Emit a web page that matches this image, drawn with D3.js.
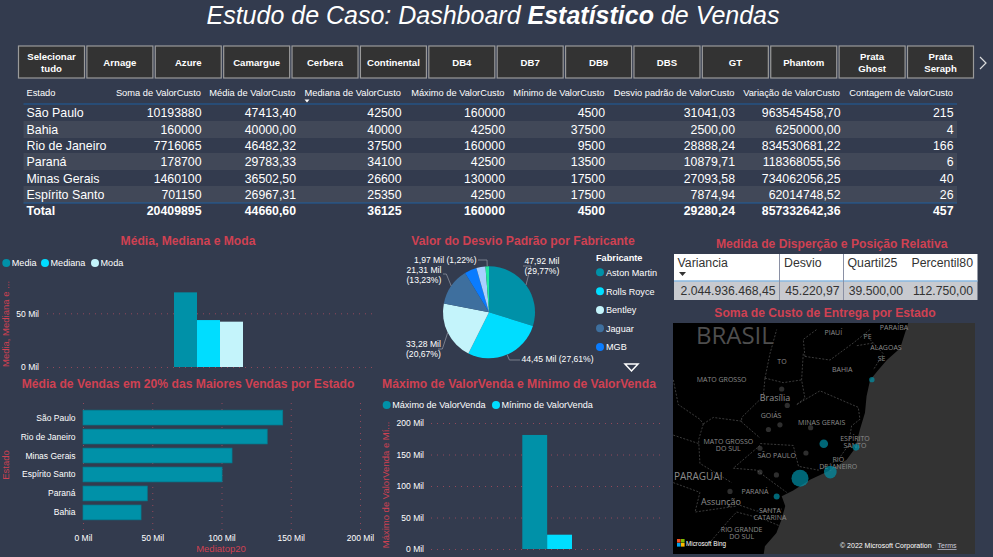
<!DOCTYPE html>
<html>
<head>
<meta charset="utf-8">
<script src="https://cdn.jsdelivr.net/npm/d3@7"></script>
<style>
  html, body {margin:0; padding:0; background:#333b4e; overflow:hidden;}
  svg {display:block;}
  text {font-family:"Liberation Sans", Arial, sans-serif; fill:#fff;}
  .grid line {stroke:#93485a; stroke-dasharray:1 5;}
  .grid .domain {display:none;}
  .grid text {font-size:8.5px; fill:#fff;}
  .titulo {font-size:12.15px; font-weight:bold; fill:#cf4152; text-anchor:middle;}
  .eixo {font-size:9.5px; fill:#cf4152; text-anchor:middle;}
  .leg {font-size:9.1px;}
  .rotulo {font-size:8.6px;}
  .mapa {fill:#8c8c8c; font-family:"Open Sans", sans-serif; font-size:7px; text-anchor:middle;}
</style>
</head>
<body>
<svg id="painel" width="993" height="557"></svg>
<script>
// Filtros de modelo
var modelos = ['Selecionar|tudo','Arnage','Azure','Camargue','Cerbera','Continental','DB4','DB7','DB9','DBS','GT','Phantom','Prata|Ghost','Prata|Seraph'];

// Tabela por estado
var colunas = ['Soma de ValorCusto','Média de ValorCusto','Mediana de ValorCusto','Máximo de ValorCusto','Mínimo de ValorCusto','Desvio padrão de ValorCusto','Variação de ValorCusto','Contagem de ValorCusto'];
var estados = ['São Paulo','Bahia','Rio de Janeiro','Paraná','Minas Gerais','Espírito Santo','Total'];
var somaCusto = ['10193880','160000','7716065','178700','1460100','701150','20409895'];
var mediaCusto = ['47413,40','40000,00','46482,32','29783,33','36502,50','26967,31','44660,60'];
var medianaCusto = ['42500','40000','37500','34100','26600','25350','36125'];
var maximoCusto = ['160000','42500','160000','42500','130000','42500','160000'];
var minimoCusto = ['4500','37500','9500','13500','17500','17500','4500'];
var desvioCusto = ['31041,03','2500,00','28888,24','10879,71','27093,58','7874,94','29280,24'];
var variacaoCusto = ['963545458,70','6250000,00','834530681,22','118368055,56','734062056,25','62014748,52','857332642,36'];
var contagemCusto = ['215','4','166','6','40','26','457'];

// Media, mediana e moda
var medidas = ['Media','Mediana','Moda'];
var medidasValores = [69500,43700,42200];

// Desvio por fabricante
var fabricantes = ['Aston Martin','Rolls Royce','Bentley','Jaguar','MGB','Outros','Demais'];
var desvioFabricante = [47.92,44.45,33.28,21.31,6.9,5.14,1.97];

// Dispersao e posicao
var dispersaoNomes = ['Variancia','Desvio','Quartil25','Percentil80'];
var dispersaoValores = ['2.044.936.468,45','45.220,97','39.500,00','112.750,00'];

// Top 20%
var estadosTop = ['São Paulo','Rio de Janeiro','Minas Gerais','Espírito Santo','Paraná','Bahia'];
var mediaTop = [144200,133000,107600,100400,46400,41900];

// Maximo e minimo de venda
var vendaNomes = ['Máximo de ValorVenda','Mínimo de ValorVenda'];
var vendaValores = [181000,22700];

// Mapa: cidades [lon, lat] e custo de entrega
var cidades = [[-46.63,-23.55],[-43.2,-22.9],[-43.94,-19.92],[-40.3,-20.3],[-49.27,-25.43],[-38.5,-12.97]];
var custoEntrega = [720,400,185,110,90,73];
var costa = [[-34.3,-6],[-34.4,-6.7],[-35.3,-9.5],[-36.8,-10.8],[-37.77,-11.9],[-38.7,-13],[-39.1,-14.8],[-39.28,-16.6],[-39.85,-18.4],[-40.4,-20.4],[-41.35,-21.6],[-43.2,-22.7],[-45.5,-23.7],[-47.4,-24.8],[-48.7,-25.4],[-48.3,-26.4],[-48.7,-27.7],[-49.3,-29.1],[-50.6,-30.4],[-50.8,-31.5],[-62,-32],[-62,-6]];
var fronteiras = [
  [[-46.26,-10.1],[-46.45,-13],[-46.07,-15],[-47,-15.7]],
  [[-50.59,-12.8],[-48.52,-13.3],[-46.45,-13]],
  [[-50.59,-12.8],[-50.78,-14.8],[-53.23,-17.1],[-53.23,-17.6],[-51.16,-19.3]],
  [[-47,-15.7],[-44.37,-14.2],[-40.04,-16],[-39.85,-17.3],[-40.79,-18],[-41.17,-20.1],[-42.3,-21.6],[-44.56,-22.7],[-46.8,-22.3],[-47.39,-20.1],[-51.16,-19.9]],
  [[-51.16,-20.1],[-54.18,-22.5],[-51.54,-22.7],[-49.65,-24],[-48.14,-25]],
  [[-57.57,-17.8],[-56.44,-17.1],[-53.23,-17.5]],
  [[-57.57,-17.8],[-58.1,-19.5],[-57.95,-22],[-54.36,-24]],
  [[-60.96,-19],[-58.1,-19.9]],
  [[-50.59,-12.8],[-50.03,-10.1],[-49.27,-7.4]],
  [[-53.8,-26.2],[-51.54,-26.9],[-48.7,-26.7]],
  [[-53.8,-27],[-50.78,-27.7],[-48.9,-28.4]],
  [[-60.96,-24],[-57.95,-25],[-58.5,-27],[-53.8,-26.4]],
  [[-60.96,-13],[-60.4,-15.7],[-57.95,-17.3],[-57.57,-17.8]],
  [[-57.2,-30.4],[-54.55,-27.7],[-53.8,-27]],
  [[-46.07,-10.4],[-43.24,-10.8],[-40.6,-8.9],[-38.72,-7.4]],
  [[-46.07,-10.4],[-46.26,-8.5],[-44.75,-7.4]],
  [[-38.72,-8.5],[-37.21,-10.1],[-38.34,-11.9]],
  [[-40.2,-9.2],[-38.34,-8.9]]
];
var manchas = [[-48.7,-14],[-48.07,-15.8],[-45.43,-18.2],[-45.96,-20.9],[-50.2,-18.4],[-48.9,-17.9],[-51.16,-20.4],[-51.16,-22.9],[-49.3,-23.2],[-54.55,-24.9]];
var nomesMapa = [
  ['PIAUÍ',-42.86,-7.7],['PARAÍBA',-36,-7.2],['PE',-38.98,-8.2],['ALAGOAS',-36.9,-9.4],['SE',-37.4,-10.6],
  ['TO',-48.67,-11],['BAHIA',-41.85,-11.9],['MATO GROSSO',-55.5,-13],['GOIÁS',-49.9,-16.9],['MINAS GERAIS',-44.18,-17.6],
  ['MATO GROSSO|DO SUL',-54.74,-19.7],['ESPÍRITO|SANTO',-40.41,-19.4],['RIO|DE JANEIRO',-42.3,-21.6],
  ['SÃO PAULO',-49.27,-21.2],['PARANÁ',-51.72,-24.9],['SANTA|CATARINA',-50.03,-26.8],
  ['RIO GRANDE|DO SUL',-53.23,-28.7]
];
var nomesMaiores = [['BRASIL',-54,-8,24],['PARAGUAI',-58.14,-23.4,10],['Brasília',-49.46,-15,9],['Assunção',-55.57,-26,9]];

var cores = ['#0091a8','#00ddff','#c4f4fb','#3e6f9e','#0a7cff','#a9d0ff','#1fe8a0'];

var svg = d3.select('#painel');

// Titulo principal
var t = svg.append('text').attr('x',493).attr('y',24).attr('text-anchor','middle')
  .style('font-size','25px').style('font-style','italic');
t.append('tspan').text('Estudo de Caso: Dashboard ');
t.append('tspan').style('font-weight','bold').text('Estatístico');
t.append('tspan').text(' de Vendas');

// Botoes de filtro
var xBotao = d3.scalePoint().domain(modelos).range([18.5,907.5]);
var botoes = svg.selectAll('.botao').data(modelos).enter().append('g')
  .attr('transform', function(d) {return 'translate(' + xBotao(d) + ',46)'});
botoes.append('rect').attr('width',66).attr('height',32)
  .attr('fill','#333').attr('stroke','#9a9a9a').attr('stroke-width',1.2);
botoes.each(function(d) {
  var partes = d.split('|');
  d3.select(this).selectAll('text').data(partes).enter().append('text')
    .attr('x',33)
    .attr('y',function(p,i) {return 20 + (i - (partes.length-1)/2)*12})
    .attr('text-anchor','middle')
    .style('font-size','9.6px').style('font-weight','bold')
    .text(function(p) {return p});
});
svg.append('path').attr('d','M980,57 L986,63 L980,69').attr('fill','none').attr('stroke','#ddd').attr('stroke-width',1.2);

// Tabela principal
var direitas = [201.5,296,401.5,505,605,735,840.5,953.5];
var linhas = [somaCusto,mediaCusto,medianaCusto,maximoCusto,minimoCusto,desvioCusto,variacaoCusto,contagemCusto];
var yLinha = [112.7,129.7,145.7,161.7,178.7,194.7,210.7];

[1,3,5].forEach(function(i) {
  svg.append('rect').attr('x',23.5).attr('width',933.5).attr('y',yLinha[i]-8.7).attr('height',17).attr('fill','#414858');
});
[104,203].forEach(function(y) {
  svg.append('line').attr('x1',23.5).attr('x2',957).attr('y1',y).attr('y2',y).attr('stroke','#1f5f9e');
});
svg.append('text').attr('x',26.5).attr('y',96).style('font-size','9.3px').text('Estado');
colunas.forEach(function(c,i) {
  svg.append('text').attr('x',direitas[i]-0.5).attr('y',96).attr('text-anchor','end').style('font-size','9.3px').text(c);
});
svg.append('path').attr('d','M304.5,99.5 h5 l-2.5,3 z').attr('fill','#fff');
estados.forEach(function(e,r) {
  var negrito = r == 6 ? 'bold' : 'normal';
  svg.append('text').attr('x',26.5).attr('y',yLinha[r]+4.4).style('font-size','12.4px').style('font-weight',negrito).text(e);
  linhas.forEach(function(col,i) {
    svg.append('text').attr('x',direitas[i]).attr('y',yLinha[r]+4.4).attr('text-anchor','end')
      .style('font-size','12.3px').style('font-weight',negrito).text(col[r]);
  });
});

function titulo(txt,x,y) {
  svg.append('text').attr('class','titulo').attr('x',x).attr('y',y+4.4).text(txt);
}
function milhar(d) {return d/1000 + ' Mil'}
function borda(c) {return d3.color(c).darker(0.4)}

// Media, Mediana e Moda
titulo('Média, Mediana e Moda',188,241);
[[6.3,'Media',0],[45,'Mediana',1],[95,'Moda',2]].forEach(function(l) {
  svg.append('circle').attr('cx',l[0]).attr('cy',263).attr('r',4).attr('fill',cores[l[2]]);
  svg.append('text').attr('class','leg').attr('x',l[0]+5.5).attr('y',266.3).text(l[1]);
});
var y1 = d3.scaleLinear().domain([0,50000]).range([367,313.3]);
var x1 = d3.scaleBand().domain(medidas).range([174,243]);
svg.append('g').attr('class','grid').attr('transform','translate(47,0)')
  .call(d3.axisLeft(y1).tickValues([0,50000]).tickFormat(milhar).tickSize(-328).tickPadding(8));
svg.selectAll('.b1').data(medidas).enter().append('rect')
  .attr('x',function(d) {return x1(d)}).attr('width',x1.bandwidth())
  .attr('y',function(d,i) {return y1(medidasValores[i])})
  .attr('height',function(d,i) {return y1(0)-y1(medidasValores[i])})
  .attr('fill',function(d,i) {return cores[i]});
svg.append('text').attr('class','eixo').attr('transform','translate(9,324) rotate(-90)').text('Media, Mediana e ...');

// Pizza
titulo('Valor do Desvio Padrão por Fabricante',523,241);
var raio = 46;
var pizza = d3.pie().sort(null)(desvioFabricante);
var arco = d3.arc().innerRadius(0).outerRadius(raio);
var gp = svg.append('g').attr('transform','translate(489,312.3)');
gp.selectAll('path').data(pizza).enter().append('path').attr('d',arco)
  .attr('fill',function(d,i) {return cores[i]});
// linhas guia: fatia, [fim da linha], [texto, x, y]
var guias = [
  [0,[523,266],['47,92 Mil',524.5,264],['(29,77%)',524.5,274]],
  [1,[520,360],['44,45 Mil (27,61%)',521.5,362]],
  [2,[438,349],['33,28 Mil',406,347],['(20,67%)',406,357]],
  [3,[443,274],['21,31 Mil',406.5,273],['(13,23%)',406.5,283]],
  [6,[478,260],['1,97 Mil (1,22%)',414,263]]
];
guias.forEach(function(g) {
  var a = (pizza[g[0]].startAngle+pizza[g[0]].endAngle)/2;
  var ini = [489+Math.sin(a)*raio, 312.3-Math.cos(a)*raio];
  var meio = [489+Math.sin(a)*(raio+6), g[1][1]];
  svg.append('path').attr('d',d3.line()([ini,meio,g[1]])).attr('fill','none').attr('stroke','#8a8f9c').attr('stroke-width',0.8);
  g.slice(2).forEach(function(r) {
    svg.append('text').attr('class','rotulo').attr('x',r[1]).attr('y',r[2]).text(r[0]);
  });
});
svg.append('text').attr('x',596).attr('y',261).style('font-size','9.2px').style('font-weight','bold').text('Fabricante');
fabricantes.slice(0,5).forEach(function(f,i) {
  var y = [272.3,291.3,310,328.3,347][i];
  svg.append('circle').attr('cx',600).attr('cy',y).attr('r',4).attr('fill',cores[i]);
  svg.append('text').attr('class','leg').attr('x',606).attr('y',y+3.3).text(f);
});
svg.append('path').attr('d','M625,364 h13 l-6.5,7 z').attr('fill','#333b4e').attr('stroke','#fff').attr('stroke-width',1.5);

// Dispersao
titulo('Medida de Disperção e Posição Relativa',831.7,243.3);
svg.append('rect').attr('x',674).attr('y',254).attr('width',303.5).attr('height',27).attr('fill','#fff');
svg.append('rect').attr('x',674).attr('y',281).attr('width',303.5).attr('height',19).attr('fill','#c8cacf');
svg.append('line').attr('x1',674).attr('x2',977.5).attr('y1',281).attr('y2',281).attr('stroke','#8ab8e0').attr('stroke-width',1.5);
[779.5,843.5].forEach(function(x) {
  svg.append('line').attr('x1',x).attr('x2',x).attr('y1',254).attr('y2',300).attr('stroke','#8a90a4');
});
var xNome = [677.5,784,847.5,973], xValor = [775.5,839.5,903,973];
dispersaoNomes.forEach(function(n,i) {
  svg.append('text').attr('x',xNome[i]).attr('y',267).attr('text-anchor',i==3 ? 'end' : 'start')
    .style('font-size','12.3px').style('fill','#333').text(n);
  svg.append('text').attr('x',xValor[i]).attr('y',295).attr('text-anchor','end')
    .style('font-size','12.2px').style('fill','#333').text(dispersaoValores[i]);
});
svg.append('path').attr('d','M679,272 h7 l-3.5,4 z').attr('fill','#333');

// Media top 20
titulo('Média de Vendas em 20% das Maiores Vendas por Estado',188,384);
var x3 = d3.scaleLinear().domain([0,200000]).range([83,360]);
var y3 = d3.scaleBand().domain(estadosTop).range([406,524]).padding(0.22);
svg.append('g').attr('class','grid').attr('transform','translate(0,530)')
  .call(d3.axisBottom(x3).tickValues([0,50000,100000,150000,200000]).tickFormat(milhar).tickSize(-127).tickPadding(5));
svg.selectAll('.b3').data(estadosTop).enter().append('rect')
  .attr('x',x3(0)).attr('y',function(d) {return y3(d)})
  .attr('width',function(d,i) {return x3(mediaTop[i])-x3(0)})
  .attr('height',y3.bandwidth()).attr('fill',cores[0]).attr('stroke',borda(cores[0])).attr('stroke-width',0.7);
svg.selectAll('.n3').data(estadosTop).enter().append('text')
  .attr('x',75.5).attr('y',function(d) {return y3(d)+y3.bandwidth()/2+3})
  .attr('text-anchor','end').style('font-size','8.5px').text(function(d) {return d});
svg.append('text').attr('class','eixo').attr('transform','translate(9,465) rotate(-90)').text('Estado');
svg.append('text').attr('class','eixo').attr('x',221).attr('y',552).text('Mediatop20');

// Maximo e minimo
titulo('Máximo de ValorVenda e Mínimo de ValorVenda',519,384);
[[386.7,0],[496,1]].forEach(function(l) {
  svg.append('circle').attr('cx',l[0]).attr('cy',405).attr('r',4).attr('fill',cores[l[1]]);
  svg.append('text').attr('class','leg').attr('x',l[0]+5.5).attr('y',408.3).text(vendaNomes[l[1]]);
});
var y4 = d3.scaleLinear().domain([0,200000]).range([549,423]);
var x4 = d3.scaleBand().domain(vendaNomes).range([522.3,572]);
svg.append('g').attr('class','grid').attr('transform','translate(431,0)')
  .call(d3.axisLeft(y4).tickValues([0,50000,100000,150000,200000]).tickFormat(milhar).tickSize(-231).tickPadding(7));
svg.selectAll('.b4').data(vendaNomes).enter().append('rect')
  .attr('x',function(d) {return x4(d)}).attr('width',x4.bandwidth())
  .attr('y',function(d,i) {return y4(vendaValores[i])})
  .attr('height',function(d,i) {return y4(0)-y4(vendaValores[i])})
  .attr('fill',function(d,i) {return cores[i]});
svg.append('text').attr('class','eixo').attr('transform','translate(389,485) rotate(-90)').text('Máximo de ValorVenda e Mí...');

// Mapa
titulo('Soma de Custo de Entrega por Estado',825,312.7);
var proj = d3.geoMercator().scale(506.5).center([-46.63,-23.55]).translate([800,478.3]);
var linhaGeo = d3.line();
function geo(pts) {return linhaGeo(pts.map(function(p) {return proj(p)}))}
svg.append('clipPath').attr('id','cortaMapa').append('rect').attr('x',673).attr('y',323).attr('width',302).attr('height',231);
var gm = svg.append('g').attr('clip-path','url(#cortaMapa)');
gm.append('rect').attr('x',673).attr('y',323).attr('width',302).attr('height',231).attr('fill','#333');
gm.append('path').attr('d',geo(costa)+'Z').attr('fill','#000');
fronteiras.forEach(function(f) {
  gm.append('path').attr('d',geo(f)).attr('fill','none').attr('stroke','#555').attr('stroke-width',0.7).attr('stroke-dasharray','2 1.5');
});
manchas.forEach(function(m) {
  var p = proj(m);
  gm.append('circle').attr('cx',p[0]).attr('cy',p[1]).attr('r',2.6).attr('fill','#666').attr('opacity',0.45);
});
nomesMapa.forEach(function(n) {
  var p = proj([n[1],n[2]]);
  var txt = gm.append('text').attr('class','mapa').attr('y',p[1]+2.5);
  n[0].split('|').forEach(function(parte,i) {
    txt.append('tspan').attr('x',p[0]).attr('dy',i ? 7 : 0).text(parte);
  });
});
nomesMaiores.forEach(function(n) {
  var p = proj([n[1],n[2]]);
  gm.append('text').attr('class','mapa').attr('x',p[0]).attr('y',p[1]+n[3]*0.36).style('font-size',n[3]+'px').style('fill',n[3]>20 ? '#4e4e4e' : '#8c8c8c').text(n[0]);
});
var rBolha = d3.scaleSqrt().domain([0,720]).range([0,8.5]);
gm.selectAll('.bolha').data(cidades).enter().append('circle')
  .attr('cx',function(d) {return proj(d)[0]})
  .attr('cy',function(d) {return proj(d)[1]})
  .attr('r',function(d,i) {return rBolha(custoEntrega[i])})
  .attr('fill','#0091a8').attr('opacity',0.7);
[['#f25022',677,539],['#7fba00',681,539],['#00a4ef',677,543],['#ffb900',681,543]].forEach(function(q) {
  gm.append('rect').attr('x',q[1]).attr('y',q[2]).attr('width',3.6).attr('height',3.6).attr('fill',q[0]);
});
gm.append('text').attr('x',686).attr('y',545.5).style('font-size','6.3px').text('Microsoft Bing');
gm.append('text').attr('x',840).attr('y',548).style('font-size','7px').text('© 2022 Microsoft Corporation');
gm.append('text').attr('x',937.5).attr('y',548).style('font-size','7px').style('text-decoration','underline').style('fill','#ccd').text('Terms');
</script>
</body>
</html>
